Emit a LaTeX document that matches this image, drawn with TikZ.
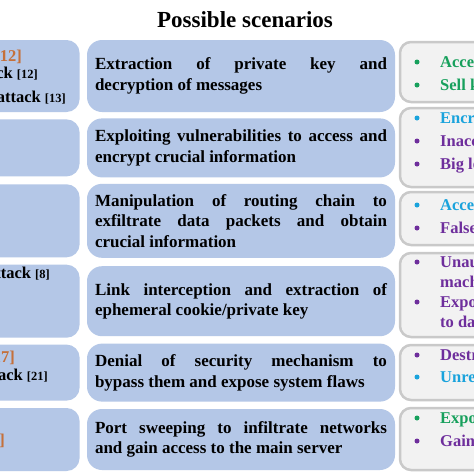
\documentclass[tikz,border=0pt]{standalone}
\usepackage{fontspec}
\setmainfont{Liberation Serif}
\usepackage{xcolor}
\usepackage{tikz}
\definecolor{boxblue}{HTML}{B4C7E7}
\definecolor{impactgray}{HTML}{F2F2F2}
\definecolor{bordergray}{HTML}{C9C9C9}
\definecolor{refbrown}{HTML}{C5703A}
\definecolor{goodgreen}{HTML}{17A05C}
\definecolor{lightcyan}{HTML}{1AA3DC}
\definecolor{darkpurple}{HTML}{6E2E9C}
\usetikzlibrary{positioning}

\tikzset{
    attackbox/.style={fill=boxblue, rounded corners=13pt, minimum width=160pt, inner sep=0pt},
    scenbox/.style={fill=boxblue, rounded corners=15pt, minimum width=308pt, inner xsep=8pt, inner ysep=0pt,
        text width=292pt, align=justify, font=\bfseries\fontsize{17}{20.5}\selectfont},
    impactbox/.style={fill=impactgray, draw=bordergray, line width=2.5pt, rounded corners=11pt, minimum width=160pt},
    attacktxt/.style={anchor=base east, inner sep=0pt, font=\bfseries\fontsize{16.5}{19}\selectfont},
    impacttxt/.style={anchor=base west, inner sep=0pt, font=\bfseries\fontsize{16.5}{19}\selectfont},
    bulletdot/.style={circle, inner sep=0pt, minimum size=5pt}
}

\begin{document}
\begin{tikzpicture}[x=1pt, y=-1pt]
    \useasboundingbox (0,0) rectangle (474,474);
    \fill[white] (0,0) rectangle (474,474);
    \clip (0,0) rectangle (474,474);

    % Title
    \node[font=\bfseries\fontsize{23}{27}\selectfont] (title) at (245,20) {Possible scenarios};

    % Scenario boxes
    \node[scenbox, minimum height=72pt] (scen1) at (241,76) {
        Extraction of private key and\linebreak decryption of messages
    };
    \node[scenbox, minimum height=59pt, below=6pt of scen1] (scen2) {
        Exploiting vulnerabilities to access and\linebreak encrypt crucial information
    };
    \node[scenbox, minimum height=74pt, below=6pt of scen2] (scen3) {
        Manipulation of routing chain to\linebreak exfiltrate data packets and obtain\linebreak crucial information
    };
    \node[scenbox, minimum height=70pt, below=8pt of scen3] (scen4) {
        Link interception and extraction of\linebreak ephemeral cookie/private key
    };
    \node[scenbox, minimum height=58pt, below=7pt of scen4] (scen5) {
        Denial of security mechanism to\linebreak bypass them and expose system flaws
    };
    \node[scenbox, minimum height=61pt, below=7pt of scen5] (scen6) {
        Port sweeping to infiltrate networks\linebreak and gain access to the main server
    };

    % Attack boxes (cut by the left edge)
    \node[attackbox, minimum height=72pt, left=7pt of scen1] (att1) {};
    \node[attackbox, minimum height=57pt, left=7pt of scen2] (att2) {};
    \node[attackbox, minimum height=73pt, left=7pt of scen3] (att3) {};
    \node[attackbox, minimum height=73pt, left=7pt of scen4] (att4) {};
    \node[attackbox, minimum height=56pt, left=7pt of scen5] (att5) {};
    \node[attackbox, minimum height=63pt, left=7pt of scen6] (att6) {};

    \node[attacktxt, text=refbrown] (att1a) at (22,61) {Brute-force attack [12]};
    \node[attacktxt] (att1b) at (38,78) {Quantum attack {\fontsize{12.5}{14}\selectfont[12]}};
    \node[attacktxt] (att1c) at (66,102) {Side-channel attack {\fontsize{12.5}{14}\selectfont[13]}};
    \node[attacktxt] (att4a) at (50,278) {Man-in-the-middle attack {\fontsize{12.5}{14}\selectfont[8]}};
    \node[attacktxt, text=refbrown] (att5a) at (15,362) {Eclipse attack [17]};
    \node[attacktxt] (att5b) at (48,380) {DoS attack {\fontsize{12.5}{14}\selectfont[21]}};
    \node[attacktxt, text=refbrown] (att6a) at (5,445) {Port scan [8]};

    % Impact boxes (cut by the right edge)
    \node[impactbox, minimum height=60pt] (imp1) at (480,72) {};
    \node[impactbox, minimum height=79pt] (imp2) at (480,147.5) {};
    \node[impactbox, minimum height=53pt] (imp3) at (480,218.5) {};
    \node[impactbox, minimum height=84pt] (imp4) at (480,295) {};
    \node[impactbox, minimum height=55pt] (imp5) at (480,372.5) {};
    \node[impactbox, minimum height=62pt] (imp6) at (480,439) {};

    \foreach \y/\c/\b/\t [count=\i] in {
        62/goodgreen/1/Access to funds,
        85/goodgreen/1/Sell keys,
        118/lightcyan/1/Encryption,
        141/darkpurple/1/Inaccessibility,
        164/darkpurple/1/Big loss,
        205/lightcyan/1/Access,
        228/darkpurple/1/False data,
        262/darkpurple/1/Unauthorized,
        282/darkpurple/0/machine,
        302/darkpurple/1/Exposure,
        322/darkpurple/0/to data,
        355/darkpurple/1/Destruction,
        377/lightcyan/1/Unrecoverable,
        418/goodgreen/1/Exposure,
        441/darkpurple/1/Gain access} {
        \node[impacttxt, text=\c] (imptxt\i) at (440,\y+5.5) {\t};
        \ifnum\b=1
            \node[bulletdot, fill=\c] (dot\i) at (417,\y) {};
        \fi
    }
\end{tikzpicture}
\end{document}
